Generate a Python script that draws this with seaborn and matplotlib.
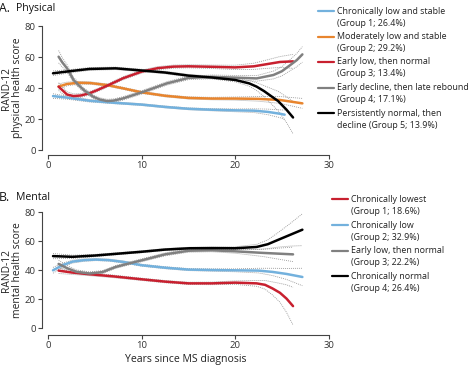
import numpy as np
import pandas as pd
import matplotlib
matplotlib.use("Agg")
import matplotlib.pyplot as plt
from matplotlib.lines import Line2D
import seaborn as sns

sns.set_style("ticks")
plt.rcParams['font.family'] = ['Open Sans', 'DejaVu Sans']

# ---------------- data: Physical (panel A) ----------------
phys_labels = [
    ("Chronically low and stable", "(Group 1; 26.4%)"),
    ("Moderately low and stable", "(Group 2; 29.2%)"),
    ("Early low, then normal", "(Group 3; 13.4%)"),
    ("Early decline, then late rebound", "(Group 4; 17.1%)"),
    ("Persistently normal, then", "decline (Group 5; 13.9%)"),
]
phys_years_g1 = [0.5, 2, 4.4, 7, 10, 12.5, 15, 17.5, 20, 22, 23.5, 24.8, 25.3]
phys_g1 = [34.8, 33.8, 31.8, 30.5, 29.3, 27.8, 26.6, 26.0, 25.6, 25.4, 24.6, 23.4, 22.8]
phys_ci_g1 = [1.5, 1.0, 0.8, 0.6, 0.6, 0.6, 0.6, 0.7, 0.9, 1.2, 1.8, 2.5, 3.0]

phys_years_g2 = [1.1, 2, 3.2, 4.5, 6.3, 8, 10, 12.5, 15, 17.5, 20, 22.5, 24.8, 27.2]
phys_g2 = [40.9, 42.6, 43.4, 43.2, 41.9, 39.8, 37.2, 35.0, 33.6, 33.2, 33.2, 33.0, 32.3, 30.1]
phys_ci_g2 = [1.8, 1.2, 0.9, 0.8, 0.7, 0.7, 0.7, 0.7, 0.7, 0.8, 1.0, 1.5, 2.2, 3.2]

phys_years_g3 = [1.1, 2.0, 2.7, 3.5, 4.4, 5.3, 6.3, 8, 10, 11.7, 13.4, 15, 17.5, 20, 22, 23, 24.8, 26.2]
phys_g3 = [40.9, 35.8, 34.8, 35.2, 36.6, 38.8, 41.5, 46.3, 50.6, 52.8, 53.8, 54.0, 53.7, 53.3, 54.0, 55.0, 56.8, 57.2]
phys_ci_g3 = [2.5, 1.8, 1.4, 1.2, 1.1, 1.0, 1.0, 1.0, 1.0, 1.0, 1.0, 1.0, 1.1, 1.4, 2.0, 2.5, 3.5, 4.5]

phys_years_g4 = [1.1, 1.5, 2.0, 2.7, 3.3, 3.8, 4.8, 5.5, 6.3, 7, 8, 10, 12.7, 15, 17.5, 20, 22.3, 24.1, 25, 25.9, 26.6, 27.2]
phys_g4 = [60.2, 56.5, 52.7, 45.2, 41.5, 38.7, 34.4, 32.6, 31.6, 31.9, 33.3, 37.2, 43.0, 46.5, 47.2, 46.7, 46.2, 48.4, 50.8, 54.8, 58.0, 61.7]
phys_ci_g4 = [4.0, 3.0, 2.4, 1.8, 1.5, 1.3, 1.2, 1.1, 1.1, 1.1, 1.1, 1.1, 1.1, 1.1, 1.2, 1.4, 1.8, 2.5, 3.0, 3.6, 4.3, 5.0]

phys_years_g5 = [0.5, 2.5, 4.4, 7.2, 10, 12.5, 15, 17.5, 20, 21.5, 22.3, 23.1, 23.8, 24.6, 25.5, 26.2]
phys_g5 = [49.5, 51.0, 52.3, 52.7, 51.3, 50.0, 48.0, 46.8, 45.2, 43.0, 40.9, 38.0, 35.0, 31.6, 26.0, 21.0]
phys_ci_g5 = [1.5, 1.0, 0.9, 0.8, 0.8, 0.8, 0.8, 0.9, 1.2, 1.8, 2.5, 3.5, 4.8, 6.3, 8.3, 10.5]

# ---------------- data: Mental (panel B) ----------------
ment_labels = [
    ("Chronically lowest", "(Group 1; 18.6%)"),
    ("Chronically low", "(Group 2; 32.9%)"),
    ("Early low, then normal", "(Group 3; 22.2%)"),
    ("Chronically normal", "(Group 4; 26.4%)"),
]
ment_years_g1 = [1.1, 2.5, 4.4, 7, 10, 12.5, 15, 17.5, 20, 22.3, 23.2, 24, 24.8, 25.5, 26.2]
ment_g1 = [39.8, 38.5, 37.3, 35.8, 33.8, 32.2, 31.0, 31.0, 31.5, 31.0, 30.0, 27.5, 24.5, 20.5, 15.3]
ment_ci_g1 = [2.0, 1.3, 1.0, 0.9, 0.8, 0.8, 0.8, 0.9, 1.2, 2.0, 3.0, 4.5, 6.5, 9.5, 13.0]

ment_years_g2 = [0.5, 1.5, 2.6, 3.8, 5.1, 6.5, 8, 10, 12.5, 15, 17.5, 20, 22.5, 24, 25.5, 27.2]
ment_g2 = [40.0, 43.5, 46.0, 47.0, 47.4, 47.0, 45.8, 43.5, 41.8, 40.5, 40.2, 40.0, 39.8, 38.9, 37.5, 35.4]
ment_ci_g2 = [2.0, 1.4, 1.0, 0.8, 0.7, 0.7, 0.7, 0.7, 0.7, 0.7, 0.8, 1.0, 1.6, 2.5, 3.8, 6.0]

ment_years_g3 = [1.1, 2.0, 3.0, 4.4, 5.8, 7.2, 8.5, 10, 12.5, 15, 17.5, 20, 23, 26.2]
ment_g3 = [44.4, 41.5, 39.0, 37.8, 38.8, 42.3, 44.5, 46.9, 51.0, 53.5, 53.8, 53.1, 52.0, 51.0]
ment_ci_g3 = [2.5, 1.8, 1.3, 1.1, 1.0, 1.0, 1.0, 1.0, 1.0, 1.0, 1.0, 1.3, 2.5, 5.0]

ment_years_g4 = [0.5, 2.6, 5, 7.5, 10, 12.5, 15.1, 17.5, 20, 22.3, 23.5, 24.6, 25.9, 27.2]
ment_g4 = [49.8, 49.3, 50.2, 51.5, 52.8, 54.3, 55.2, 55.3, 55.2, 56.1, 58.0, 61.0, 64.5, 68.0]
ment_ci_g4 = [1.8, 1.1, 0.8, 0.7, 0.7, 0.7, 0.7, 0.8, 1.0, 1.8, 3.0, 5.0, 7.8, 11.0]

x_ticks = [0, 10, 20, 30]
y_ticks = [0, 20, 40, 60, 80]

c_blue = "#73b1dd"
c_orange = "#e8852e"
c_red = "#c8202f"
c_gray = "#808080"
c_black = "#000000"

phys_series = [
    (phys_years_g1, phys_g1, phys_ci_g1, c_blue),
    (phys_years_g2, phys_g2, phys_ci_g2, c_orange),
    (phys_years_g3, phys_g3, phys_ci_g3, c_red),
    (phys_years_g4, phys_g4, phys_ci_g4, c_gray),
    (phys_years_g5, phys_g5, phys_ci_g5, c_black),
]
ment_series = [
    (ment_years_g1, ment_g1, ment_ci_g1, c_red),
    (ment_years_g2, ment_g2, ment_ci_g2, c_blue),
    (ment_years_g3, ment_g3, ment_ci_g3, c_gray),
    (ment_years_g4, ment_g4, ment_ci_g4, c_black),
]

W, H = 474, 366
fig = plt.figure(figsize=(W / 100, H / 100), dpi=100)

ax_a = fig.add_axes([41.8 / W, (H - 155) / H, 288.6 / W, 135.2 / H])
ax_b = fig.add_axes([41.8 / W, (H - 335) / H, 288.6 / W, 128.5 / H])

spine_col = "#444444"
tick_fs = 6.8


def draw_panel(ax, series, ylo):
    # confidence bounds first (dotted grey), then the trajectories
    for yrs, vals, ci, col in series:
        yrs = np.array(yrs)
        vals = np.array(vals)
        ci = np.array(ci)
        for bound in (vals - ci, vals + ci):
            ax.plot(yrs, bound, color="#9a9a9a", lw=0.6, ls=(0, (1.2, 1.2)), zorder=1)
    for i, (yrs, vals, ci, col) in enumerate(series):
        df = pd.DataFrame({"year": yrs, "score": vals})
        sns.lineplot(data=df, x="year", y="score", ax=ax, color=col, lw=1.8,
                     sort=False, estimator=None, zorder=3 + i)
    ax.set_xlim(-0.7, 30.2)
    ax.set_ylim(ylo, 84)
    ax.set_xticks(x_ticks)
    ax.set_yticks(y_ticks)
    sns.despine(ax=ax)
    ax.spines["left"].set_bounds(0, 80)
    ax.spines["bottom"].set_bounds(0, 30)
    for s in ("left", "bottom"):
        ax.spines[s].set_color(spine_col)
        ax.spines[s].set_linewidth(0.8)
    ax.tick_params(axis="both", length=3, width=0.8, color=spine_col,
                   labelsize=tick_fs, labelcolor="#333333", pad=1.5)
    ax.set_xlabel("")
    ax.set_ylabel("")


draw_panel(ax_a, phys_series, -3.2)
draw_panel(ax_b, ment_series, -4.6)

ax_b.set_xlabel("Years since MS diagnosis", fontsize=7.6, color="#222222", labelpad=3)

lab_fs = 7.4
fig.text(7 / W, 1 - 88 / H, "RAND-12", rotation=90, ha="center", va="center",
         fontsize=lab_fs, color="#222222")
fig.text(18 / W, 1 - 88 / H, "physical health score", rotation=90, ha="center",
         va="center", fontsize=lab_fs, color="#222222")
fig.text(7 / W, 1 - 270 / H, "RAND-12", rotation=90, ha="center", va="center",
         fontsize=lab_fs, color="#222222")
fig.text(18 / W, 1 - 270 / H, "mental health score", rotation=90, ha="center",
         va="center", fontsize=lab_fs, color="#222222")

# panel titles
fig.text(-1 / W, 1 - 8 / H, "A.", fontsize=8.8, ha="left", va="center", color="#111111")
fig.text(16 / W, 1 - 8 / H, "Physical", fontsize=7.6, ha="left", va="center", color="#111111")
fig.text(-1 / W, 1 - 197 / H, "B.", fontsize=8.8, ha="left", va="center", color="#111111")
fig.text(16 / W, 1 - 197 / H, "Mental", fontsize=7.6, ha="left", va="center", color="#111111")

# legends (drawn by hand so the handle sits on the first text line)
leg_fs = 6.4


def draw_legend(series, labels, x0, y0, step, line_gap=12):
    for i, ((yrs, vals, ci, col), (l1, l2)) in enumerate(zip(series, labels)):
        y = y0 + i * step
        fig.add_artist(Line2D([x0 / W, (x0 + 16) / W], [1 - y / H, 1 - y / H],
                              color=col, lw=1.6, transform=fig.transFigure))
        fig.text((x0 + 19) / W, 1 - y / H, l1, fontsize=leg_fs, ha="left",
                 va="center", color="#222222")
        fig.text((x0 + 19) / W, 1 - (y + line_gap) / H, l2, fontsize=leg_fs,
                 ha="left", va="center", color="#222222")


draw_legend(phys_series, phys_labels, 318, 11, 25.5)
draw_legend(ment_series, ment_labels, 332, 199.3, 25.7)

fig.savefig("out.png", dpi=100)
